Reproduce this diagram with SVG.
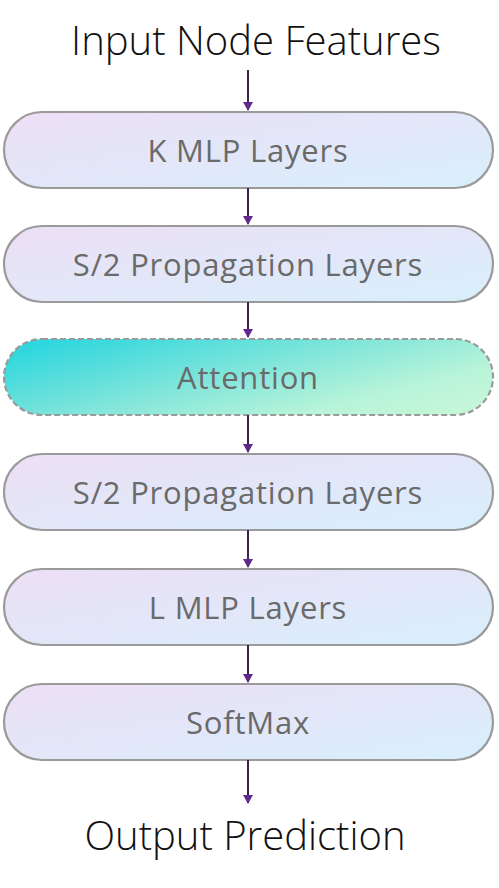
<svg xmlns="http://www.w3.org/2000/svg" width="499" height="888" viewBox="0 0 499 888">
<defs>
<linearGradient id="g" x1="0" y1="0" x2="1" y2="1" gradientUnits="objectBoundingBox">
<stop offset="0" stop-color="#eddff6"/>
<stop offset="1" stop-color="#d8effb"/>
</linearGradient>
<linearGradient id="ga" x1="0" y1="0.2" x2="1" y2="0.8">
<stop offset="0" stop-color="#2fd7de"/>
<stop offset="0.45" stop-color="#80e5da"/>
<stop offset="0.8" stop-color="#b8f4d9"/>
<stop offset="1" stop-color="#c4f6d8"/>
</linearGradient>
<marker id="ah" markerWidth="10" markerHeight="10" refX="8" refY="5" orient="auto" markerUnits="userSpaceOnUse">
<path d="M0,0 L9,5 L0,10 Z" fill="#5f2a8c"/>
</marker>
</defs>
<style>
.box{fill:url(#g);stroke:#9a9a9a;stroke-width:2.2}
.att{fill:url(#ga);stroke:#9a9a9a;stroke-width:2.2;stroke-dasharray:6 3}
.lbl{font-family:"Open Sans","Noto Sans",sans-serif;font-size:31px;letter-spacing:0.8px;fill:#6a6a6a;text-anchor:middle;font-weight:400}
.ttl{font-family:"Open Sans","Noto Sans",sans-serif;font-size:40px;fill:#111;text-anchor:middle;font-weight:300}
.con{stroke:#3a2350;stroke-width:2;fill:none;marker-end:url(#ah)}
</style>
<g id="input"><text class="ttl" x="256" y="55">Input Node Features</text></g>
<g id="n1"><rect class="box" x="4" y="112" width="489" height="76" rx="38"/><text class="lbl" x="248" y="162">K MLP Layers</text></g>
<g id="n2"><rect class="box" x="4" y="226" width="489" height="76" rx="38"/><text class="lbl" x="248" y="276">S/2 Propagation Layers</text></g>
<g id="n3"><rect class="att" x="4" y="339" width="489" height="76" rx="38"/><text class="lbl" x="248" y="389">Attention</text></g>
<g id="n4"><rect class="box" x="4" y="454" width="489" height="76" rx="38"/><text class="lbl" x="248" y="504">S/2 Propagation Layers</text></g>
<g id="n5"><rect class="box" x="4" y="569" width="489" height="76" rx="38"/><text class="lbl" x="248" y="619">L MLP Layers</text></g>
<g id="n6"><rect class="box" x="4" y="684" width="489" height="76" rx="38"/><text class="lbl" x="248" y="734">SoftMax</text></g>
<g id="output"><text class="ttl" x="245" y="850">Output Prediction</text></g>
<g id="connectors">
<line class="con" x1="248" y1="70" x2="248" y2="110"/>
<line class="con" x1="248" y1="188" x2="248" y2="224"/>
<line class="con" x1="248" y1="302" x2="248" y2="337"/>
<line class="con" x1="248" y1="415" x2="248" y2="452"/>
<line class="con" x1="248" y1="530" x2="248" y2="567"/>
<line class="con" x1="248" y1="645" x2="248" y2="682"/>
<line class="con" x1="248" y1="760" x2="248" y2="803"/>
</g>
</svg>
